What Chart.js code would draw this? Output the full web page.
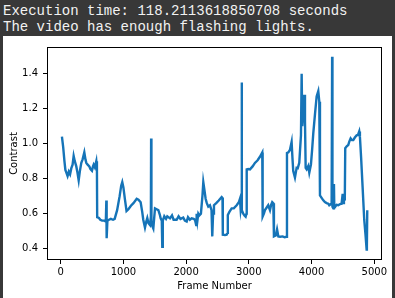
<!DOCTYPE html>
<html>
<head>
<meta charset="utf-8">
<script src="https://cdn.jsdelivr.net/npm/chart.js@4"></script>
<style>
  body { margin: 0; background: #383838; width: 395px; height: 298px; overflow: hidden; position: relative; }
  .out { position: absolute; left: 3px; font-family: "Liberation Mono", monospace; font-size: 14px; line-height: 16px; color: #f2f2f2; white-space: pre; }
  #box { position: absolute; left: 3px; top: 36px; width: 389px; height: 262px; background: #fff; }
</style>
</head>
<body>
<div class="out" style="top:3px">Execution time: 118.2113618850708 seconds</div>
<div class="out" style="top:19px">The video has enough flashing lights.</div>
<div id="box"><canvas id="plot" width="389" height="262"></canvas></div>
<script>
// frame numbers and contrast values
let frames = [20, 40, 60, 75, 95, 110, 130, 150, 170, 190, 207, 225, 249, 265, 287, 305, 329, 350, 377, 395,
  409, 430, 457, 475, 499, 515, 526, 545, 568, 578, 582, 610, 632, 660, 695, 720, 728, 733, 745, 770,
  800, 835, 861, 900, 940, 965, 982, 1000, 1025, 1050, 1080, 1120, 1160, 1212, 1240, 1275, 1300, 1317, 1344, 1365,
  1381, 1400, 1424, 1438, 1442, 1447, 1460, 1477, 1492, 1504, 1530, 1557, 1580, 1594, 1612, 1620, 1628, 1652, 1680, 1700,
  1743, 1775, 1800, 1849, 1880, 1910, 1954, 1980, 2009, 2030, 2060, 2088, 2120, 2141, 2160, 2168, 2180, 2194, 2210, 2236,
  2260, 2274, 2290, 2311, 2330, 2353, 2380, 2405, 2417, 2430, 2444, 2480, 2520, 2567, 2580, 2585, 2620, 2646, 2660, 2665,
  2690, 2726, 2760, 2806, 2840, 2858, 2870, 2883, 2886, 2890, 2911, 2930, 2949, 2962, 2966, 2990, 3018, 3060, 3097, 3140,
  3177, 3214, 3220, 3240, 3257, 3285, 3309, 3337, 3355, 3373, 3390, 3400, 3430, 3450, 3470, 3500, 3540, 3570, 3600, 3608,
  3630, 3655, 3682, 3695, 3708, 3735, 3762, 3780, 3804, 3831, 3842, 3852, 3868, 3884, 3895, 3906, 3922, 3948, 3964, 3990,
  4010, 4027, 4055, 4081, 4107, 4123, 4134, 4160, 4187, 4213, 4240, 4266, 4282, 4310, 4320, 4328, 4333, 4347, 4357, 4362,
  4373, 4400, 4426, 4455, 4479, 4496, 4505, 4516, 4530, 4537, 4560, 4585, 4600, 4623, 4645, 4665, 4690, 4719, 4740, 4760,
  4771, 4790, 4814, 4840, 4860, 4878, 4882, 4888];
let contrast = [1.04, 0.98, 0.90, 0.85, 0.83, 0.815, 0.84, 0.825, 0.86, 0.88, 0.93, 0.90, 0.87, 0.84, 0.79, 0.84, 0.89, 0.91, 0.95, 0.91,
  0.89, 0.88, 0.87, 0.855, 0.845, 0.87, 0.88, 0.865, 0.90, 0.855, 0.58, 0.575, 0.565, 0.56, 0.56, 0.555, 0.675, 0.46, 0.56, 0.565,
  0.57, 0.565, 0.57, 0.62, 0.70, 0.76, 0.78, 0.75, 0.68, 0.615, 0.625, 0.645, 0.66, 0.685, 0.68, 0.665, 0.61, 0.565, 0.52, 0.555,
  0.575, 0.545, 0.535, 0.58, 1.03, 0.56, 0.53, 0.515, 0.58, 0.63, 0.625, 0.62, 0.595, 0.573, 0.56, 0.41, 0.56, 0.585, 0.57, 0.585,
  0.573, 0.59, 0.565, 0.565, 0.585, 0.57, 0.577, 0.56, 0.555, 0.58, 0.565, 0.573, 0.57, 0.565, 0.535, 0.60, 0.56, 0.60, 0.59, 0.60,
  0.70, 0.78, 0.74, 0.685, 0.66, 0.64, 0.648, 0.62, 0.47, 0.60, 0.648, 0.66, 0.675, 0.695, 0.69, 0.48, 0.478, 0.48, 0.49, 0.592,
  0.61, 0.63, 0.63, 0.648, 0.665, 0.685, 0.62, 0.65, 1.35, 0.62, 0.60, 0.59, 0.583, 0.60, 0.853, 0.855, 0.853, 0.87, 0.89, 0.905,
  0.925, 0.95, 0.583, 0.60, 0.62, 0.635, 0.648, 0.62, 0.65, 0.666, 0.66, 0.47, 0.475, 0.51, 0.47, 0.468, 0.47, 0.465, 0.468, 0.946,
  0.95, 0.964, 1.01, 0.92, 0.843, 0.806, 0.862, 0.86, 0.89, 1.048, 1.40, 1.10, 1.18, 1.28, 1.13, 0.862, 0.853, 0.872, 0.834, 0.88,
  0.97, 1.057, 1.17, 1.27, 1.30, 1.24, 0.704, 0.69, 0.676, 0.666, 0.66, 0.657, 0.648, 0.655, 0.665, 1.497, 0.64, 0.63, 0.77, 0.64,
  0.639, 0.65, 0.648, 0.655, 0.657, 0.713, 0.66, 0.676, 0.68, 0.974, 0.985, 0.992, 1.01, 1.03, 1.02, 1.02, 1.035, 1.048, 1.05, 1.07,
  1.039, 0.92, 0.75, 0.564, 0.48, 0.395, 0.42, 0.62];
let xTicks = [0, 1000, 2000, 3000, 4000, 5000];
let yTicks = [0.4, 0.6, 0.8, 1.0, 1.2, 1.4];

let points = frames.map((f, i) => ({ x: f, y: contrast[i] }));

// matplotlib style box around the plot area
const frameBox = {
    id: 'frameBox',
    afterDraw(c) {
        let a = c.chartArea;
        let ctx = c.ctx;
        ctx.save();
        ctx.strokeStyle = '#000';
        ctx.lineWidth = 1;
        ctx.strokeRect(Math.round(a.left) + 0.5, Math.round(a.top) + 0.5,
            Math.round(a.right - a.left) - 1, Math.round(a.bottom - a.top) - 1);
        ctx.restore();
    }
};

let tickFont = { family: 'DejaVu Sans', size: 10 };

let chart = new Chart(document.getElementById('plot').getContext('2d'), {
    type: 'line',
    data: {
        datasets: [{
            data: points,
            borderColor: '#1574b8',
            borderWidth: 2.4,
            pointRadius: 0,
            tension: 0,
            fill: false
        }]
    },
    options: {
        responsive: false,
        animation: false,
        layout: { padding: { top: 6, right: 10, left: 0, bottom: 0 } },
        plugins: { legend: { display: false }, tooltip: { enabled: false } },
        scales: {
            x: {
                type: 'linear',
                min: -218,
                max: 5123,
                afterBuildTicks: s => { s.ticks = xTicks.map(v => ({ value: v })); },
                afterFit: s => { s.height = 38; },
                border: { display: false },
                grid: { drawOnChartArea: false, drawTicks: true, tickLength: 4, tickColor: '#000' },
                ticks: { font: tickFont, color: '#000', padding: 2, maxRotation: 0, callback: v => String(v) },
                title: { display: true, text: 'Frame Number', font: tickFont, color: '#000', padding: { top: 0, bottom: 6 } }
            },
            y: {
                min: 0.335,
                max: 1.5525,
                afterBuildTicks: s => { s.ticks = yTicks.map(v => ({ value: v })); },
                afterFit: s => { s.width = 44; },
                border: { display: false },
                grid: { drawOnChartArea: false, drawTicks: true, tickLength: 4, tickColor: '#000' },
                ticks: { font: tickFont, color: '#000', padding: 5, callback: v => v.toFixed(1) },
                title: { display: true, text: 'Contrast', font: tickFont, color: '#000', padding: { top: 5, bottom: 0 } }
            }
        }
    },
    plugins: [frameBox]
});
</script>
</body>
</html>
